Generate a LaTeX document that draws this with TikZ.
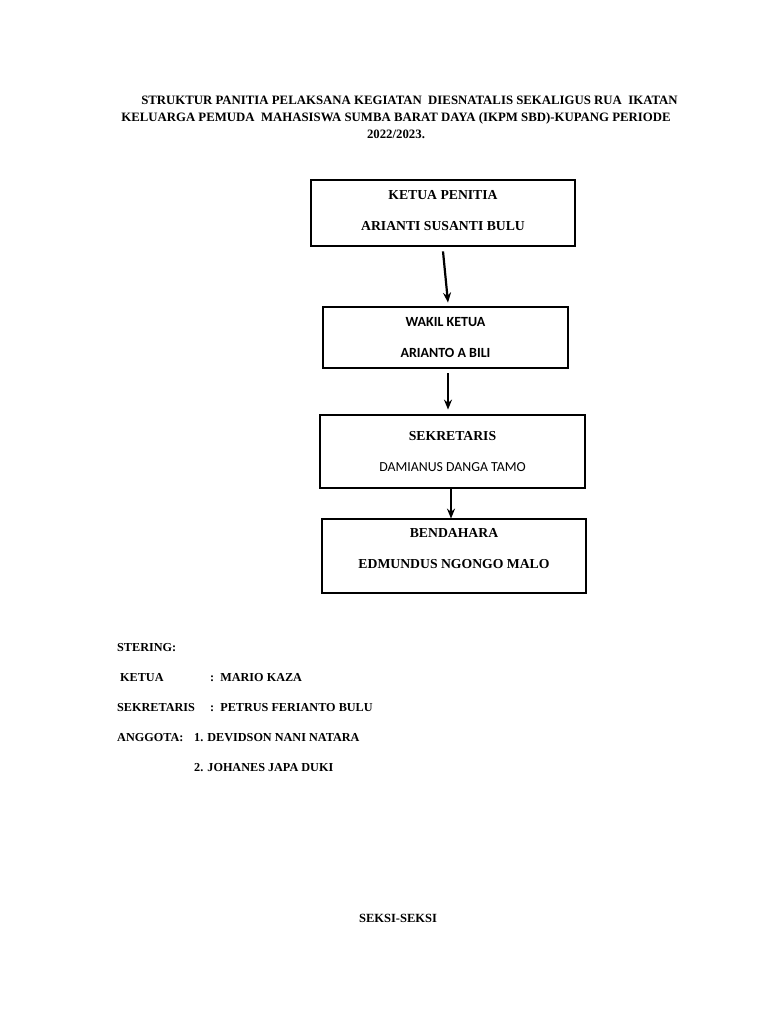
\documentclass[tikz,border=0pt]{standalone}
\usepackage{fontspec}
\setmainfont{Liberation Serif}
\newfontfamily\calibri{Carlito}
\usetikzlibrary{arrows.meta}
\begin{document}
\begin{tikzpicture}[x=1pt, y=-1pt, font=\bfseries]
        \tikzset{
            orgbox/.style={
                draw=black,
                line width=2.8pt,
                align=center,
                inner sep=0pt,
                font=\fontsize{13.7}{16}\selectfont\bfseries
            },
            guide/.style={draw=black, -{Stealth[length=10pt, width=8pt]}, line width=2.2pt},
            listtext/.style={anchor=west, inner sep=0pt, font=\fontsize{12.2}{14}\selectfont\bfseries}
        }

        \fill[white] (0,0) rectangle (768,1024);
        \useasboundingbox (0,0) rectangle (768,1024);

        \node[align=center, font=\fontsize{12.8}{17}\selectfont\bfseries] (judul) at (396,117)
            {\hspace*{27pt}STRUKTUR PANITIA PELAKSANA KEGIATAN\ \ DIESNATALIS SEKALIGUS RUA\ \ IKATAN\\
             KELUARGA PEMUDA\ \ MAHASISWA SUMBA BARAT DAYA (IKPM SBD)-KUPANG PERIODE\\
             2022/2023.};

        \node[orgbox, minimum width=264, minimum height=66] (ketuaBox) at (443,213)
            {KETUA PENITIA\\[15pt]ARIANTI SUSANTI BULU\\[-11pt]\mbox{}};
        \node[orgbox, minimum width=245, minimum height=61,
              font=\fontsize{14}{16}\calibri\bfseries] (wakilBox) at (445.5,337.5)
            {WAKIL KETUA\\[15pt]ARIANTO A BILI};
        \node[orgbox, minimum width=265, minimum height=73] (sekBox) at (452.5,451.5)
            {SEKRETARIS\\[15pt]{\fontsize{13.8}{16}\calibri\mdseries DAMIANUS DANGA TAMO}};
        \node[orgbox, minimum width=264, minimum height=74] (bendBox) at (454,556)
            {BENDAHARA\\[15pt]EDMUNDUS NGONGO MALO\\[0pt]\rule{0pt}{4pt}};

        \draw[guide] ([yshift=-4]ketuaBox.south) -- ([xshift=2.5, yshift=3]wakilBox.north);
        \draw[guide] ([xshift=2.5, yshift=-4]wakilBox.north |- wakilBox.south) -- ([xshift=-4.5, yshift=4]sekBox.north);
        \draw[guide] ([xshift=-1.5]sekBox.south) -- ([xshift=-3, yshift=-1]bendBox.north);

        \node[listtext] (stering) at (117,648) {STERING:};
        \node[listtext] (ketuaLbl) at (120,678) {KETUA};
        \node[listtext] (ketuaVal) at (210,678) {:\ \ MARIO KAZA};
        \node[listtext] (sekLbl) at (117,708) {SEKRETARIS};
        \node[listtext] (sekVal) at (210,708) {:\ \ PETRUS FERIANTO BULU};
        \node[listtext] (anggotaLbl) at (117,738) {ANGGOTA:};
        \node[listtext] (anggotaSatu) at (194,738) {1. DEVIDSON NANI NATARA};
        \node[listtext] (anggotaDua) at (194,768) {2. JOHANES JAPA DUKI};

        \node[font=\fontsize{12.5}{14}\selectfont\bfseries] (seksi) at (398,918) {SEKSI-SEKSI};
    \end{tikzpicture}
\end{document}
